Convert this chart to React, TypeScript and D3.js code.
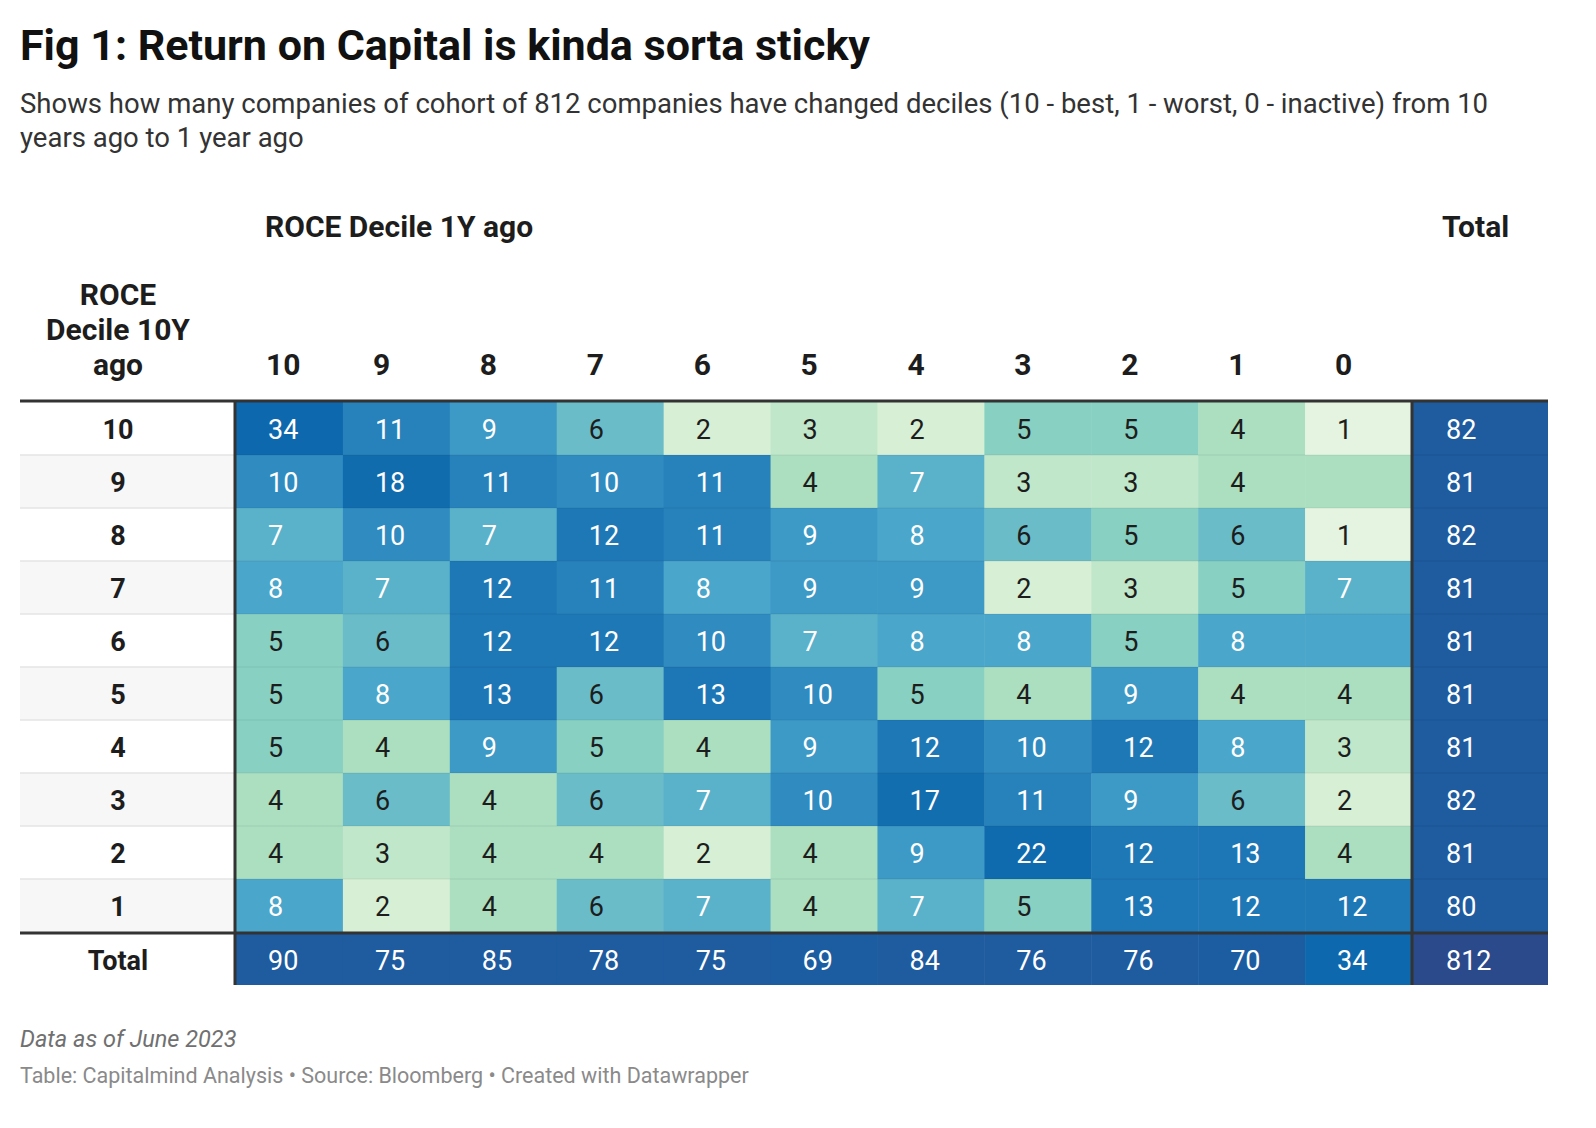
import React from "react";
import * as d3 from "d3";

// deciles 1Y ago (columns) and 10Y ago (rows)
const colLabels = ["10", "9", "8", "7", "6", "5", "4", "3", "2", "1", "0"];
const rowLabels = ["10", "9", "8", "7", "6", "5", "4", "3", "2", "1"];

// null = empty cell in the source table
const counts: (number | null)[][] = [
  [34, 11, 9, 6, 2, 3, 2, 5, 5, 4, 1],
  [10, 18, 11, 10, 11, 4, 7, 3, 3, 4, null],
  [7, 10, 7, 12, 11, 9, 8, 6, 5, 6, 1],
  [8, 7, 12, 11, 8, 9, 9, 2, 3, 5, 7],
  [5, 6, 12, 12, 10, 7, 8, 8, 5, 8, null],
  [5, 8, 13, 6, 13, 10, 5, 4, 9, 4, 4],
  [5, 4, 9, 5, 4, 9, 12, 10, 12, 8, 3],
  [4, 6, 4, 6, 7, 10, 17, 11, 9, 6, 2],
  [4, 3, 4, 4, 2, 4, 9, 22, 12, 13, 4],
  [8, 2, 4, 6, 7, 4, 7, 5, 13, 12, 12],
];
const rowTotals = [82, 81, 82, 81, 81, 81, 81, 82, 81, 80];
const colTotals = [90, 75, 85, 78, 75, 69, 84, 76, 76, 70, 34];
const grandTotal = 812;

const W = 1596;
const H = 1128;
const FONT = "Roboto, 'Noto Sans', sans-serif";

const left = 20;
const right = 1548;
const labelRight = 236;
const dataRight = 1412;
const topY = 402;
const rowH = 53;

const x = d3.scaleBand<string>().domain(colLabels).range([labelRight, dataRight]);
const y = d3
  .scaleBand<string>()
  .domain(rowLabels)
  .range([topY, topY + rowH * rowLabels.length]);
const totalTop = topY + rowH * rowLabels.length + 2;
const totalH = 51;

const color = d3
  .scaleLinear<string>()
  .domain([1, 2, 4, 5, 6, 8, 10, 12, 18, 34, 75, 812])
  .range([
    "#e4f4e0", "#d7efd4", "#abdfc0", "#87d0c2", "#69bcc8", "#4aa6cb",
    "#2f8bc0", "#1f78b6", "#116cae", "#0e68ae", "#1e5b9f", "#2b4a8c",
  ])
  .clamp(true);

const textColor = (v: number) => (v >= 7 ? "#ffffff" : "#1d1d1d");

const cellFont = 27;
const headFont = 30;

export default function App() {
  const bw = x.bandwidth();
  return (
    <svg
      width={W}
      height={H}
      style={{ position: "absolute", left: 0, top: 0, background: "#fff" }}
      fontFamily={FONT}
    >
      <text x={20} y={60} fontSize={43} fontWeight={700} fill="#111">
        Fig 1: Return on Capital is kinda sorta sticky
      </text>
      <text fontSize={27.5} fill="#333">
        <tspan x={20} y={113}>
          Shows how many companies of cohort of 812 companies have changed deciles (10 - best, 1 - worst, 0 - inactive) from 10
        </tspan>
        <tspan x={20} y={147}>years ago to 1 year ago</tspan>
      </text>

      {/* header */}
      <text x={265} y={237} fontSize={headFont} fontWeight={700} fill="#1d1d1d">
        ROCE Decile 1Y ago
      </text>
      <text x={1442} y={237} fontSize={headFont} fontWeight={700} fill="#1d1d1d">
        Total
      </text>
      <text textAnchor="middle" fontSize={headFont} fontWeight={700} fill="#1d1d1d">
        <tspan x={118} y={305}>ROCE</tspan>
        <tspan x={118} y={340}>Decile 10Y</tspan>
        <tspan x={118} y={375}>ago</tspan>
      </text>
      {colLabels.map((c) => (
        <text key={c} x={(x(c) as number) + 30} y={375} fontSize={headFont} fontWeight={700} fill="#1d1d1d">
          {c}
        </text>
      ))}

      {/* row label column */}
      {rowLabels.map((r, i) => (
        <g key={r}>
          <rect
            x={left}
            y={y(r)}
            width={labelRight - left}
            height={rowH}
            fill={i % 2 === 1 ? "#f7f7f7" : "#ffffff"}
          />
          {i > 0 && (
            <line x1={left} x2={labelRight} y1={y(r)} y2={y(r)} stroke="#e4e4e4" strokeWidth={1.5} />
          )}
          <text
            x={118}
            y={(y(r) as number) + rowH / 2 + 10}
            textAnchor="middle"
            fontSize={cellFont}
            fontWeight={700}
            fill="#1d1d1d"
          >
            {r}
          </text>
        </g>
      ))}

      {/* cells */}
      {counts.map((row, i) =>
        row.map((v, j) => {
          let cv = v;
          for (let k = j; cv === null && k >= 0; k--) cv = row[k];
          const cx = x(colLabels[j]) as number;
          const cy = y(rowLabels[i]) as number;
          return (
            <g key={`${i}-${j}`}>
              <rect x={cx} y={cy} width={bw + 0.5} height={rowH + 0.5} fill={color(cv as number)} />
              {v !== null && (
                <text x={cx + 32} y={cy + rowH / 2 + 10} fontSize={cellFont} fill={textColor(v)}>
                  {v}
                </text>
              )}
            </g>
          );
        })
      )}
      {rowLabels.map((r, i) =>
        i > 0 ? (
          <line key={`s${r}`} x1={labelRight} x2={right} y1={y(r)} y2={y(r)} stroke="#000" strokeOpacity={0.05} strokeWidth={1.5} />
        ) : null
      )}

      {/* row totals */}
      {rowTotals.map((t, i) => {
        const cy = y(rowLabels[i]) as number;
        return (
          <g key={`rt${i}`}>
            <rect x={dataRight} y={cy} width={right - dataRight} height={rowH + 0.5} fill={color(t)} />
            <text x={1446} y={cy + rowH / 2 + 10} fontSize={cellFont} fill="#fff">
              {t}
            </text>
          </g>
        );
      })}
      {rowLabels.map((r, i) =>
        i > 0 ? (
          <line key={`st${r}`} x1={dataRight} x2={right} y1={y(r)} y2={y(r)} stroke="#000" strokeOpacity={0.05} strokeWidth={1.5} />
        ) : null
      )}

      {/* column totals */}
      <text x={118} y={totalTop + totalH / 2 + 10} textAnchor="middle" fontSize={cellFont} fontWeight={700} fill="#1d1d1d">
        Total
      </text>
      {colTotals.map((t, j) => {
        const cx = x(colLabels[j]) as number;
        return (
          <g key={`ct${j}`}>
            <rect x={cx} y={totalTop} width={bw + 0.5} height={totalH} fill={color(t)} />
            <text x={cx + 32} y={totalTop + totalH / 2 + 10} fontSize={cellFont} fill="#fff">
              {t}
            </text>
          </g>
        );
      })}
      <rect x={dataRight} y={totalTop} width={right - dataRight} height={totalH} fill={color(grandTotal)} />
      <text x={1446} y={totalTop + totalH / 2 + 10} fontSize={cellFont} fill="#fff">
        {grandTotal}
      </text>

      {/* rules */}
      <line x1={left} x2={right} y1={topY - 1} y2={topY - 1} stroke="#333" strokeWidth={3} />
      <line x1={left} x2={right} y1={totalTop - 1} y2={totalTop - 1} stroke="#333" strokeWidth={3} />
      <line x1={labelRight - 1} x2={labelRight - 1} y1={topY - 2} y2={totalTop + totalH} stroke="#333" strokeWidth={3} />
      <line x1={dataRight} x2={dataRight} y1={topY - 2} y2={totalTop + totalH} stroke="#333" strokeWidth={3} />

      {/* footer */}
      <text x={20} y={1047} fontSize={23.5} fontStyle="italic" fill="#707070">
        Data as of June 2023
      </text>
      <text x={20} y={1083} fontSize={21.5} fill="#8a8a8a">
        Table: Capitalmind Analysis • Source: Bloomberg • Created with Datawrapper
      </text>
    </svg>
  );
}
